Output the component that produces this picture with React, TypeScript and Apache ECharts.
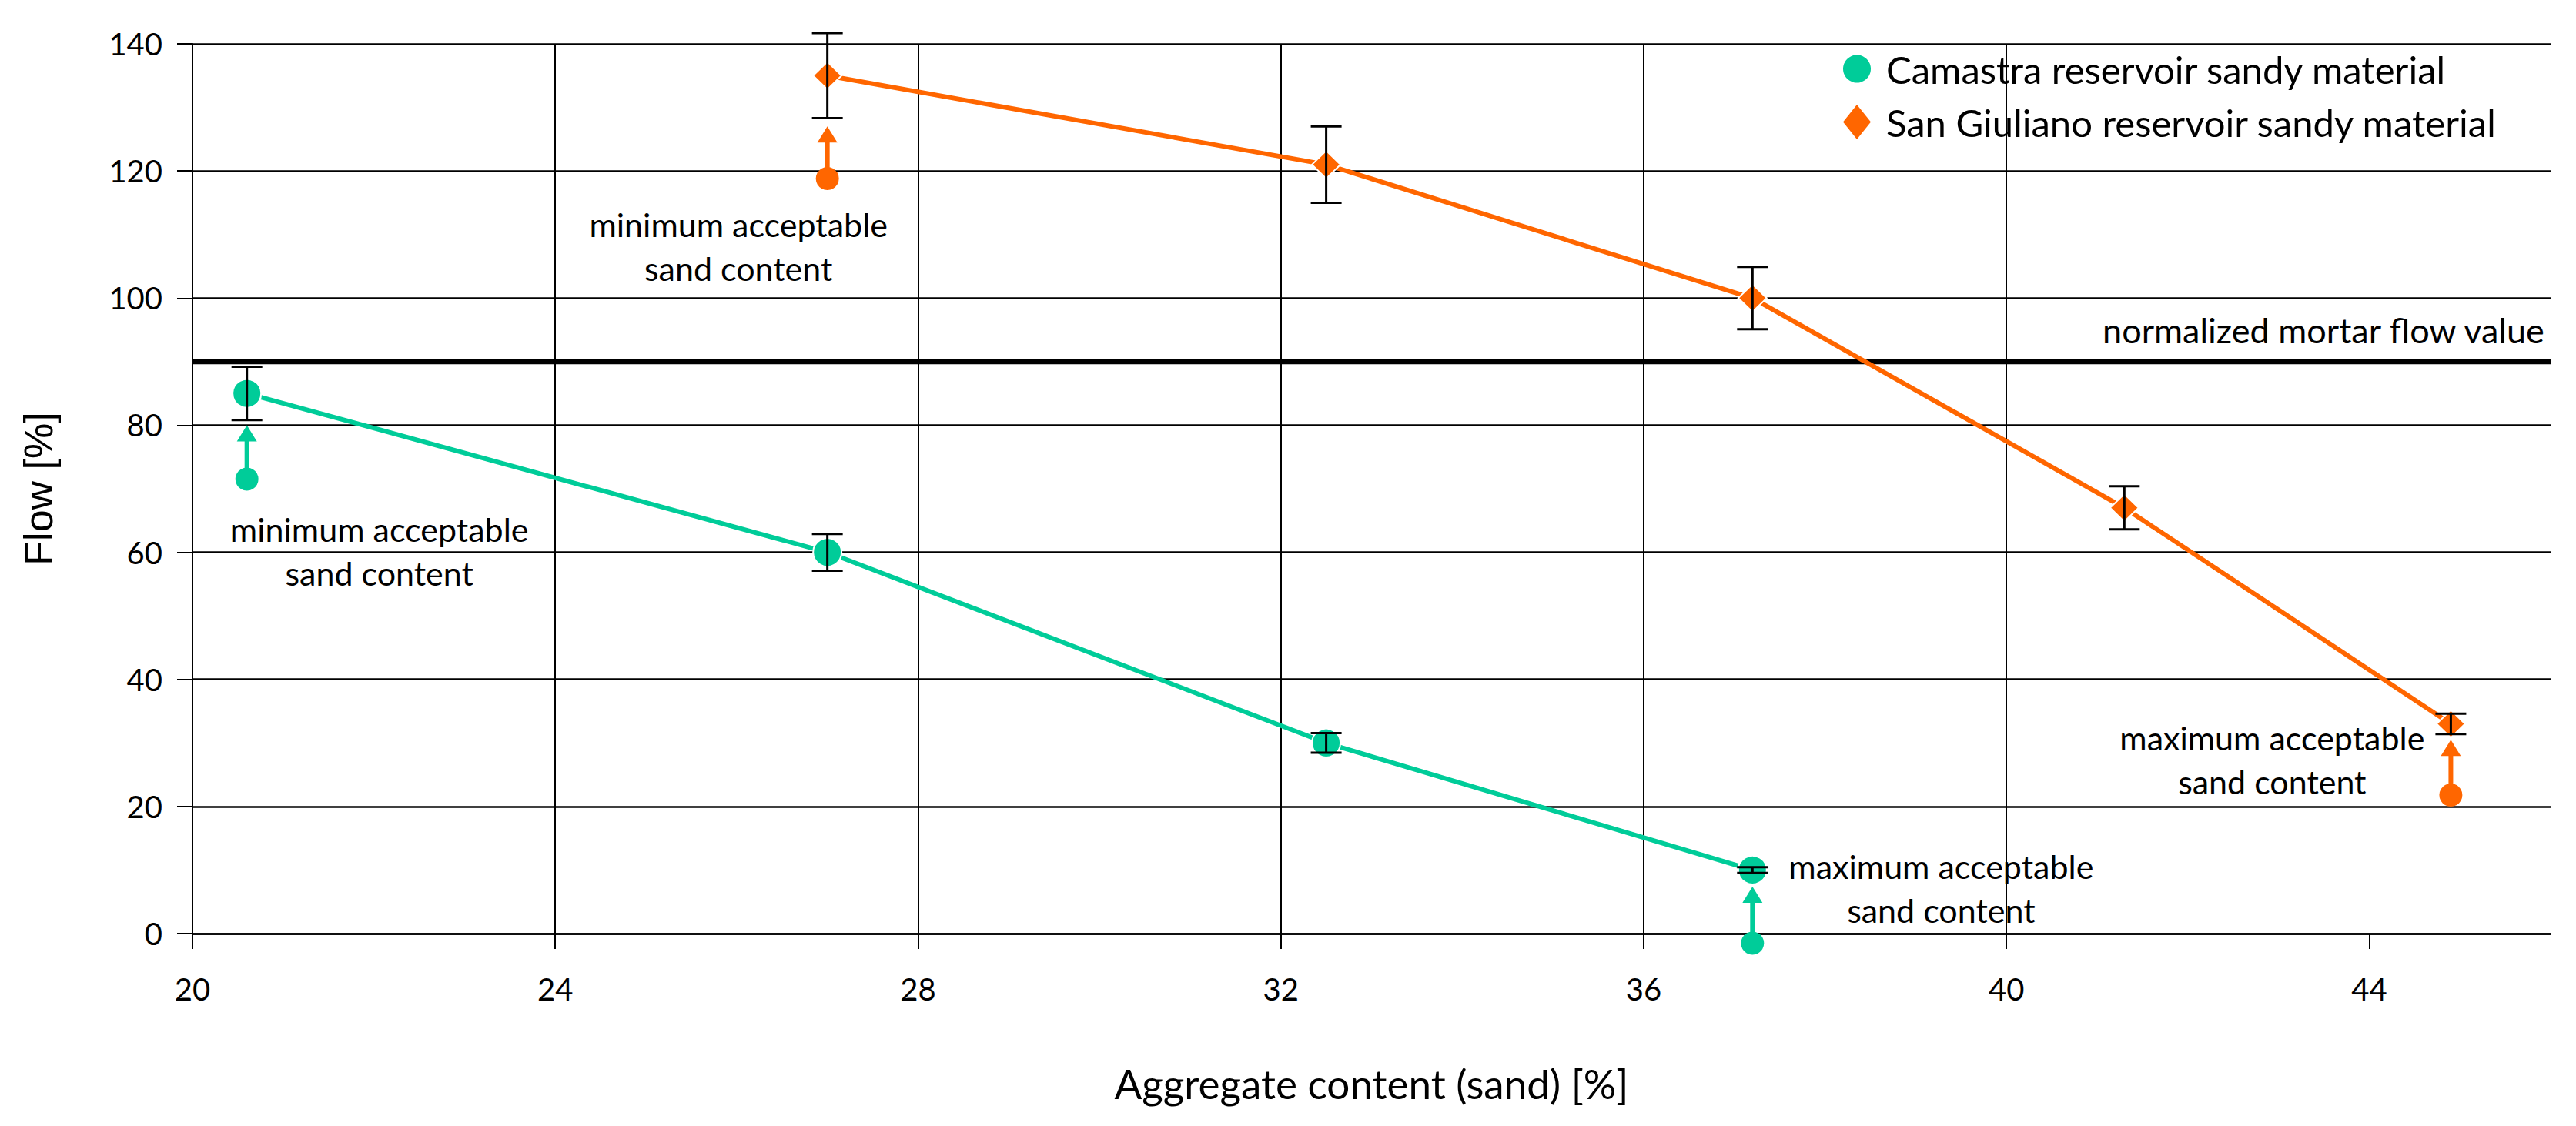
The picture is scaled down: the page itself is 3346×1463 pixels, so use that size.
import React, { useEffect, useRef } from "react";
import * as echarts from "echarts";

// ---- data ----
const xTicks = [20, 24, 28, 32, 36, 40, 44];
const camName = "Camastra reservoir sandy material";
const sgName = "San Giuliano reservoir sandy material";
const camX = [20.6, 27, 32.5, 37.2];
const camY = [85, 60, 30, 10];
const camErr = [4.2, 2.9, 1.55, 0.45];
const sgX = [27, 32.5, 37.2, 41.3, 44.9];
const sgY = [135, 121, 100, 67, 33];
const sgErr = [6.7, 6, 4.9, 3.4, 1.6];
const camArrowX = [20.6, 37.2];
const camArrowFrom = [71.5, -1.5];
const camArrowTo = [80, 7.4];
const sgArrowX = [27, 44.9];
const sgArrowFrom = [118.8, 21.8];
const sgArrowTo = [127, 30.5];
const normX = [20, 46];
const normY = [90, 90];
const annTexts = [
  "minimum acceptable\nsand content",
  "minimum acceptable\nsand content",
  "maximum acceptable\nsand content",
  "maximum acceptable\nsand content",
];
const annX = [26.02, 22.06, 39.28, 42.93];
const annY = [108.1, 60.2, 7.2, 27.4];
const normLabel = "normalized mortar flow value";
const normLabelX = 45.93;
const normLabelY = 94.95;

const GREEN = "#00CC99";
const ORANGE = "#FF6600";
const FONT = "Lato, 'Noto Sans', sans-serif";

const zip2 = (a: number[], b: number[]) => a.map((v, i) => [v, b[i]]);
const zip3 = (a: number[], b: number[], c: number[]) => a.map((v, i) => [v, b[i], c[i]]);

const errorBarRender = (params: any, api: any) => {
  const x = api.value(0);
  const y = api.value(1);
  const e = api.value(2);
  const top = api.coord([x, y + e]);
  const bot = api.coord([x, y - e]);
  const hw = 20;
  const style = { stroke: "#000", lineWidth: 3 };
  return {
    type: "group",
    children: [
      { type: "line", shape: { x1: top[0], y1: top[1], x2: bot[0], y2: bot[1] }, style },
      { type: "line", shape: { x1: top[0] - hw, y1: top[1], x2: top[0] + hw, y2: top[1] }, style },
      { type: "line", shape: { x1: bot[0] - hw, y1: bot[1], x2: bot[0] + hw, y2: bot[1] }, style },
    ],
  };
};

const arrowRender = (color: string) => (params: any, api: any) => {
  const x = api.value(0);
  const from = api.coord([x, api.value(1)]);
  const to = api.coord([x, api.value(2)]);
  const headLen = 21;
  const headHalf = 13;
  return {
    type: "group",
    children: [
      {
        type: "line",
        shape: { x1: from[0], y1: from[1], x2: to[0], y2: to[1] + headLen - 2 },
        style: { stroke: color, lineWidth: 6 },
      },
      {
        type: "polygon",
        shape: {
          points: [
            [to[0], to[1]],
            [to[0] - headHalf, to[1] + headLen],
            [to[0] + headHalf, to[1] + headLen],
          ],
        },
        style: { fill: color },
      },
    ],
  };
};

export default function App() {
  const ref = useRef<HTMLDivElement>(null);
  useEffect(() => {
    if (!ref.current) return;
    const chart = echarts.init(ref.current, undefined, { renderer: "svg" });
    const option: any = {
      animation: false,
      backgroundColor: "#fff",
      grid: { left: 250, right: 33, top: 57, bottom: 250, containLabel: false },
      legend: {
        orient: "vertical",
        left: 2389,
        top: 60,
        itemWidth: 36,
        itemHeight: 45,
        itemGap: 20,
        itemStyle: { borderWidth: 0 },
        textStyle: { fontFamily: FONT, fontSize: 49, color: "#000", padding: [0, 0, 0, 15] },
        data: [
          { name: camName, icon: "circle" },
          { name: sgName, icon: "diamond" },
        ],
      },
      xAxis: {
        type: "value",
        min: 20,
        max: 46,
        interval: 4,
        name: "Aggregate content (sand) [%]",
        nameLocation: "middle",
        nameGap: 168,
        nameTextStyle: { fontFamily: FONT, fontSize: 53, color: "#000" },
        axisLine: { show: true, lineStyle: { color: "#000", width: 2.5 } },
        axisTick: { show: true, length: 20, customValues: xTicks, lineStyle: { color: "#000", width: 2 } },
        axisLabel: { customValues: xTicks, margin: 52, fontFamily: FONT, fontSize: 40, color: "#000" },
        splitLine: { show: true, showMaxLine: false, lineStyle: { color: "#000", width: 2 } },
      },
      yAxis: {
        type: "value",
        min: 0,
        max: 140,
        interval: 20,
        name: "Flow [%]",
        nameLocation: "middle",
        nameGap: 174,
        nameTextStyle: { fontFamily: "'Liberation Sans', Arial, sans-serif", fontSize: 52, color: "#000" },
        axisLine: { show: true, lineStyle: { color: "#000", width: 2 } },
        axisTick: { show: true, length: 20, lineStyle: { color: "#000", width: 2 } },
        axisLabel: { margin: 39, fontFamily: FONT, fontSize: 40, color: "#000" },
        splitLine: { show: true, lineStyle: { color: "#000", width: 2.5 } },
      },
      series: [
        {
          name: "norm",
          type: "line",
          data: zip2(normX, normY),
          symbol: "none",
          lineStyle: { color: "#000", width: 7 },
          z: 1,
          silent: true,
        },
        {
          name: camName,
          type: "line",
          data: zip2(camX, camY),
          symbol: "circle",
          symbolSize: 37,
          lineStyle: { color: GREEN, width: 6 },
          itemStyle: { color: GREEN, borderColor: "#fff", borderWidth: 2, opacity: 1 },
          z: 3,
        },
        {
          name: sgName,
          type: "line",
          data: zip2(sgX, sgY),
          symbol: "diamond",
          symbolSize: [37, 36],
          lineStyle: { color: ORANGE, width: 6 },
          itemStyle: { color: ORANGE, borderColor: "#fff", borderWidth: 2, opacity: 1 },
          z: 3,
        },
        {
          name: "camErr",
          type: "custom",
          data: zip3(camX, camY, camErr),
          renderItem: errorBarRender,
          encode: { x: 0, y: 1 },
          z: 5,
          silent: true,
        },
        {
          name: "sgErr",
          type: "custom",
          data: zip3(sgX, sgY, sgErr),
          renderItem: errorBarRender,
          encode: { x: 0, y: 1 },
          z: 5,
          silent: true,
        },
        {
          name: "camArrow",
          type: "custom",
          data: zip3(camArrowX, camArrowFrom, camArrowTo),
          renderItem: arrowRender(GREEN),
          encode: { x: 0, y: 1 },
          clip: false,
          z: 3,
          silent: true,
        },
        {
          name: "sgArrow",
          type: "custom",
          data: zip3(sgArrowX, sgArrowFrom, sgArrowTo),
          renderItem: arrowRender(ORANGE),
          encode: { x: 0, y: 1 },
          clip: false,
          z: 3,
          silent: true,
        },
        {
          name: "camStart",
          type: "scatter",
          data: zip2(camArrowX, camArrowFrom),
          symbol: "circle",
          symbolSize: 30,
          itemStyle: { color: GREEN, opacity: 1 },
          clip: false,
          z: 4,
          silent: true,
        },
        {
          name: "sgStart",
          type: "scatter",
          data: zip2(sgArrowX, sgArrowFrom),
          symbol: "circle",
          symbolSize: 30,
          itemStyle: { color: ORANGE, opacity: 1 },
          clip: false,
          z: 4,
          silent: true,
        },
        {
          name: "annotations",
          type: "custom",
          data: zip2(annX, annY),
          encode: { x: 0, y: 1 },
          clip: false,
          z: 6,
          silent: true,
          renderItem: (params: any, api: any) => {
            const p = api.coord([api.value(0), api.value(1)]);
            return {
              type: "text",
              x: p[0],
              y: p[1],
              style: {
                text: annTexts[params.dataIndex],
                fontFamily: FONT,
                fontSize: 43,
                lineHeight: 57,
                fill: "#000",
                align: "center",
                verticalAlign: "middle",
              },
            };
          },
        },
        {
          name: "normLabel",
          type: "custom",
          data: [[normLabelX, normLabelY]],
          encode: { x: 0, y: 1 },
          clip: false,
          z: 6,
          silent: true,
          renderItem: (params: any, api: any) => {
            const p = api.coord([api.value(0), api.value(1)]);
            return {
              type: "text",
              x: p[0],
              y: p[1],
              style: {
                text: normLabel,
                fontFamily: FONT,
                fontSize: 45,
                fill: "#000",
                align: "right",
                verticalAlign: "middle",
              },
            };
          },
        },
      ],
    };
    chart.setOption(option);
    return () => chart.dispose();
  }, []);
  return (
    <div
      ref={ref}
      style={{ position: "fixed", left: 0, top: 0, width: 3346, height: 1463, background: "#fff" }}
    />
  );
}
